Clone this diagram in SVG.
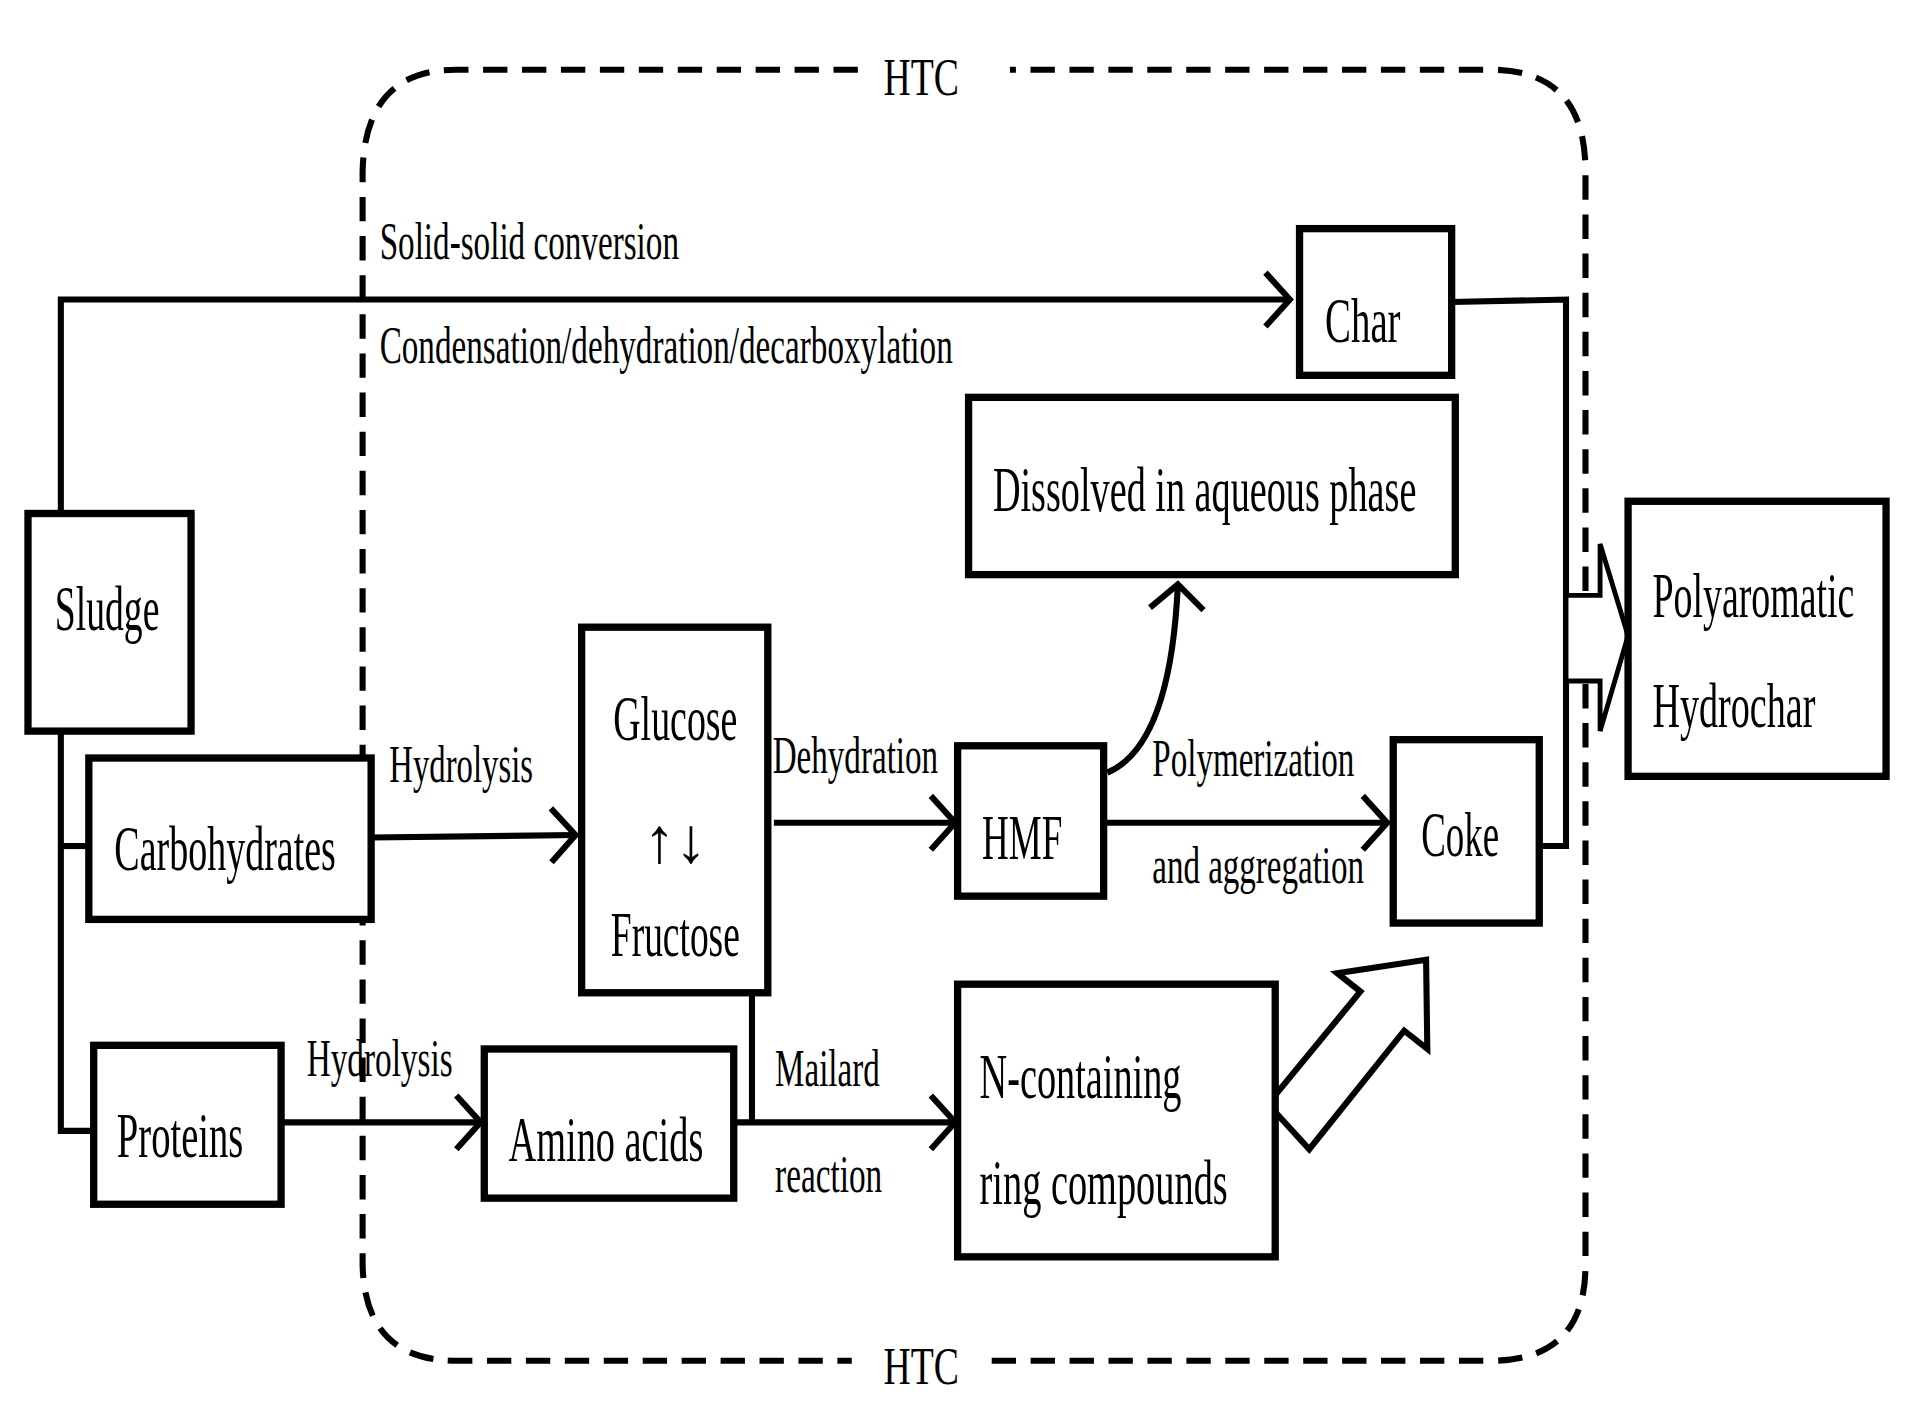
<svg xmlns="http://www.w3.org/2000/svg" width="1908" height="1406" viewBox="0 0 1908 1406">
<style>
.box{fill:#fff;stroke:#000;stroke-width:6}
.ln{fill:none;stroke:#000;stroke-width:5}
.ar{fill:none;stroke:#000;stroke-width:5;marker-end:url(#ah)}
text{font-family:"Liberation Serif","Times New Roman",serif;fill:#000}
.n{font-size:52px}
.l{font-size:44px}
.m{text-anchor:middle}
</style>
<defs>
<marker id="ah" markerUnits="userSpaceOnUse" markerWidth="40" markerHeight="60" refX="22" refY="25" orient="auto" viewBox="0 0 40 50">
<path d="M2,3 L22,25 L2,47" fill="none" stroke="#000" stroke-width="5"/>
</marker>
</defs>
<rect width="1908" height="1406" fill="#fff"/>
<g transform="scale(1.2168,1.2226)">
<g id="htc">
<path d="M705,57 H375 Q300,57 298,140 V1035 Q300,1113 375,1113 H700 M815,1113 H1225 Q1303,1113 1303,1035 V140 Q1303,57 1225,57 H830" fill="none" stroke="#000" stroke-width="5" stroke-dasharray="20,12"/>
<text class="l m" x="757" y="78" textLength="62" lengthAdjust="spacingAndGlyphs">HTC</text>
<text class="l m" x="757" y="1132" textLength="62" lengthAdjust="spacingAndGlyphs">HTC</text>
</g>
<g id="connectors">
<polyline class="ar" points="50,420 50,245 1060,245"/>
<polyline class="ln" points="1193,247 1287,245 1287,692 1265,692"/>
<polyline class="ln" points="50,598 50,925 77,925"/>
<line class="ln" x1="50" y1="692" x2="73" y2="692"/>
<line class="ar" x1="305" y1="685" x2="473" y2="683"/>
<line class="ar" x1="636" y1="673" x2="785" y2="673"/>
<line class="ar" x1="907" y1="673" x2="1140" y2="673"/>
<path class="ar" d="M910,632 Q962,610 968,478"/>
<line class="ar" x1="231" y1="918" x2="395" y2="918"/>
<line class="ln" x1="618" y1="812" x2="618" y2="918"/>
<line class="ar" x1="603" y1="918" x2="785" y2="918"/>
<polygon points="1287,487 1315,487 1315,445 1338,520 1315,598 1315,557 1287,557" fill="#fff" stroke="#000" stroke-width="4"/>
<polygon points="1042,903 1118,811 1099,796 1172,785 1173,858 1154,843 1076,940" fill="#fff" stroke="#000" stroke-width="5"/>
</g>
<g id="labels">
<text class="l" x="312" y="212" textLength="246" lengthAdjust="spacingAndGlyphs">Solid-solid conversion</text>
<text class="l" x="312" y="297" textLength="471" lengthAdjust="spacingAndGlyphs">Condensation/dehydration/decarboxylation</text>
<text class="l" x="320" y="640" textLength="118" lengthAdjust="spacingAndGlyphs">Hydrolysis</text>
<text class="l" x="635" y="632" textLength="136" lengthAdjust="spacingAndGlyphs">Dehydration</text>
<text class="l" x="947" y="635" textLength="166" lengthAdjust="spacingAndGlyphs">Polymerization</text>
<text class="l" x="947" y="722" textLength="174" lengthAdjust="spacingAndGlyphs">and aggregation</text>
<text class="l" x="252" y="880" textLength="120" lengthAdjust="spacingAndGlyphs">Hydrolysis</text>
<text class="l" x="637" y="888" textLength="86" lengthAdjust="spacingAndGlyphs">Mailard</text>
<text class="l" x="637" y="975" textLength="88" lengthAdjust="spacingAndGlyphs">reaction</text>
</g>
<g id="sludge"><rect class="box" x="23" y="420" width="134" height="178"/><text class="n m" x="88" y="515" textLength="86" lengthAdjust="spacingAndGlyphs">Sludge</text></g>
<g id="char"><rect class="box" x="1068" y="187" width="125" height="120"/><text class="n m" x="1120" y="280" textLength="62" lengthAdjust="spacingAndGlyphs">Char</text></g>
<g id="dissolved"><rect class="box" x="796" y="325" width="400" height="145"/><text class="n m" x="990" y="418" textLength="348" lengthAdjust="spacingAndGlyphs">Dissolved in aqueous phase</text></g>
<g id="hydrochar"><rect class="box" x="1338" y="410" width="212" height="225"/><text class="n" x="1358" y="505" textLength="166" lengthAdjust="spacingAndGlyphs">Polyaromatic</text><text class="n" x="1358" y="595" textLength="134" lengthAdjust="spacingAndGlyphs">Hydrochar</text></g>
<g id="carbohydrates"><rect class="box" x="73" y="620" width="232" height="132"/><text class="n m" x="185" y="712" textLength="182" lengthAdjust="spacingAndGlyphs">Carbohydrates</text></g>
<g id="glucose"><rect class="box" x="478" y="513" width="153" height="299"/><text class="n m" x="555" y="605" textLength="102" lengthAdjust="spacingAndGlyphs">Glucose</text><text class="n m" x="555" y="705" font-family="DejaVu Sans, sans-serif" font-size="44">↑↓</text><text class="n m" x="555" y="782" textLength="106" lengthAdjust="spacingAndGlyphs">Fructose</text></g>
<g id="hmf"><rect class="box" x="787" y="610" width="120" height="123"/><text class="n m" x="840" y="703" textLength="66" lengthAdjust="spacingAndGlyphs">HMF</text></g>
<g id="coke"><rect class="box" x="1145" y="605" width="120" height="150"/><text class="n m" x="1200" y="700" textLength="64" lengthAdjust="spacingAndGlyphs">Coke</text></g>
<g id="proteins"><rect class="box" x="77" y="855" width="154" height="130"/><text class="n m" x="148" y="946" textLength="104" lengthAdjust="spacingAndGlyphs">Proteins</text></g>
<g id="amino"><rect class="box" x="398" y="858" width="205" height="122"/><text class="n m" x="498" y="950" textLength="160" lengthAdjust="spacingAndGlyphs">Amino acids</text></g>
<g id="ncontaining"><rect class="box" x="787" y="805" width="261" height="223"/><text class="n" x="805" y="898" textLength="166" lengthAdjust="spacingAndGlyphs">N-containing</text><text class="n" x="805" y="985" textLength="204" lengthAdjust="spacingAndGlyphs">ring compounds</text></g>
</g>
</svg>
